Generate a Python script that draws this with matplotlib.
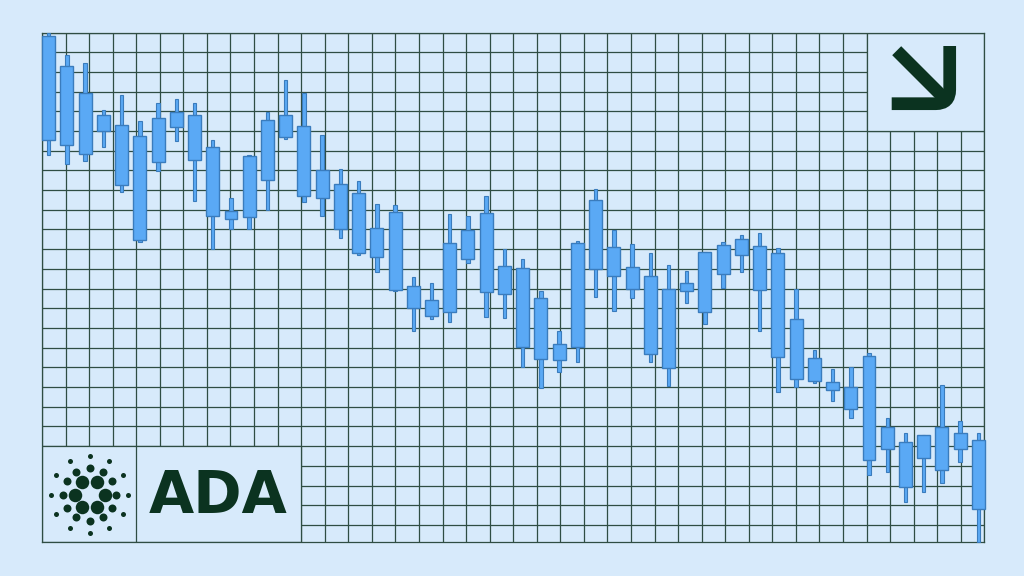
import numpy as np
import matplotlib
matplotlib.use("Agg")
import matplotlib.pyplot as plt
from matplotlib.patches import Rectangle, PathPatch
from matplotlib.path import Path

BG = "#d7eafb"
GRID = "#2f4d43"
DARK = "#0b3320"
FILL = "#5aa9f5"
EDGE = "#3a7cbd"

# candle values, in grid-row units (0 = bottom edge of the chart)
highs = [25.81, 24.68, 24.27, 21.89, 22.68, 21.33, 22.26, 22.46, 22.26, 20.37,
         17.42, 19.60, 21.80, 23.43, 22.75, 20.63, 18.89, 18.31, 17.13, 17.08,
         13.41, 13.14, 16.62, 16.54, 17.55, 14.83, 14.36, 12.72, 10.69, 15.25,
         17.88, 15.81, 15.09, 14.63, 14.04, 13.73, 14.70, 15.22, 15.56, 15.64,
         14.91, 12.80, 9.72, 8.74, 8.84, 9.55, 6.25, 5.49, 5.41, 7.94,
         6.12, 5.49]
body_tops = [25.64, 24.15, 22.77, 21.66, 21.16, 20.57, 21.50, 21.80, 21.63, 20.03,
             16.78, 19.55, 21.40, 21.66, 21.11, 18.86, 18.13, 17.71, 15.90, 16.74,
             12.97, 12.26, 15.17, 15.81, 16.66, 14.00, 13.87, 12.35, 10.01, 15.14,
             17.34, 14.93, 13.92, 13.48, 12.80, 13.11, 14.68, 15.04, 15.34, 15.00,
             14.63, 11.28, 9.30, 8.11, 7.83, 9.42, 5.83, 5.04, 5.41, 5.83,
             5.49, 5.15]
body_bottoms = [20.40, 20.14, 19.69, 20.85, 18.11, 15.29, 19.25, 21.03, 19.37, 16.51,
                16.37, 16.47, 18.35, 20.52, 17.55, 17.42, 15.86, 14.63, 14.43, 12.77,
                11.84, 11.46, 11.63, 14.32, 12.65, 12.56, 9.89, 9.26, 9.21, 9.89,
                13.82, 13.49, 12.80, 9.50, 8.79, 12.73, 11.63, 13.58, 14.53, 12.77,
                9.35, 8.23, 8.15, 7.69, 6.71, 4.14, 4.68, 2.78, 4.25, 3.63,
                4.70, 1.63]
lows = [19.63, 19.18, 19.30, 20.01, 17.73, 15.19, 18.79, 20.35, 17.30, 14.86,
        15.85, 15.85, 16.83, 20.45, 17.22, 16.54, 15.42, 14.55, 13.66, 12.70,
        10.69, 11.28, 11.13, 14.15, 11.38, 11.33, 8.87, 7.78, 8.59, 9.10,
        12.40, 11.72, 12.35, 9.13, 7.89, 12.09, 11.03, 12.85, 13.66, 10.70,
        7.60, 7.86, 8.03, 7.13, 6.28, 3.38, 3.54, 2.02, 2.53, 2.95,
        4.02, 0.00]

n_cols = 40
n_rows = 25.84

fig = plt.figure(figsize=(10.24, 5.76), dpi=100, facecolor=BG)
W, H = 1024, 576
rect = [42 / W, 1 - 541.5 / H, (984.4 - 42) / W, (541.5 - 32.5) / H]

# background grid
gax = fig.add_axes(rect, facecolor=BG)
gax.set_xlim(0, n_cols)
gax.set_ylim(n_rows, 0)
gax.set_xticks(np.arange(0, n_cols + 1))
gax.set_yticks(np.arange(0, 26))
gax.tick_params(length=0, labelbottom=False, labelleft=False)
gax.grid(True, color=GRID, lw=0.9)
gax.set_axisbelow(True)
for s in gax.spines.values():
    s.set_color(GRID)
    s.set_linewidth(0.9)

# boxes that cut the grid
gax.add_patch(Rectangle((0, 21), 11, n_rows - 21, fc=BG, ec=GRID, lw=0.9, zorder=2))
gax.vlines(4, 21, n_rows, color=GRID, lw=0.9, zorder=3)
gax.add_patch(Rectangle((35, 0), 5, 5, fc=BG, ec=GRID, lw=0.9, zorder=2))

# candles
ax = fig.add_axes(rect, facecolor="none")
ax.set_xlim(-0.3675, 51.33)
ax.set_ylim(0, n_rows)
ax.axis("off")
x = np.arange(len(highs))
hi = np.array(highs)
lo = np.array(lows)
bt = np.array(body_tops)
bb = np.array(body_bottoms)
ax.bar(x, hi - lo, bottom=lo, width=0.19, color=FILL, edgecolor=EDGE, lw=0.8, clip_on=False)
ax.bar(x, bt - bb, bottom=bb, width=0.71, color=FILL, edgecolor=EDGE, lw=1.0, clip_on=False)

# cardano logo (pixel units inside its cell)
lax = fig.add_axes([42 / W, 1 - 541.5 / H, 95 / W, 95 / H], facecolor="none")
lax.set_xlim(-47.5, 47.5)
lax.set_ylim(-47.5, 47.5)
lax.axis("off")
px2pt = 0.72
rings = [(15, np.arange(0, 360, 60), 13.5),
         (26.5, np.arange(0, 360, 30), 8.0),
         (38.5, np.arange(0, 360, 30), 5.0)]
for r, angs, d in rings:
    a = np.radians(angs)
    lax.scatter(r * np.cos(a), r * np.sin(a) - 0.5, s=(d * px2pt) ** 2, color=DARK, lw=0)

fig.text(218 / W, 1 - 513.3 / H, "ADA", fontsize=42, weight="bold", color=DARK,
         ha="center", va="baseline", family=["DejaVu Sans"])

# arrow icon
aax = fig.add_axes([866.7 / W, 1 - 130.2 / H, 117.8 / W, 97.7 / H], facecolor="none")
aax.set_xlim(0, 117.8)
aax.set_ylim(97.7, 0)
aax.axis("off")
R = 14
vx, hy = 83, 71.2
verts = [(vx, 13.5), (vx, hy - R), (vx, hy), (vx - R, hy), (25, hy)]
codes = [Path.MOVETO, Path.LINETO, Path.CURVE3, Path.CURVE3, Path.LINETO]
aax.add_patch(PathPatch(Path(verts, codes), fill=False, ec=DARK, lw=9.15,
                        capstyle="butt", joinstyle="miter"))
aax.plot([30, 80], [18.2, 68.2], color=DARK, lw=9.15, solid_capstyle="butt")

fig.savefig("out.png", dpi=100, facecolor=BG)
